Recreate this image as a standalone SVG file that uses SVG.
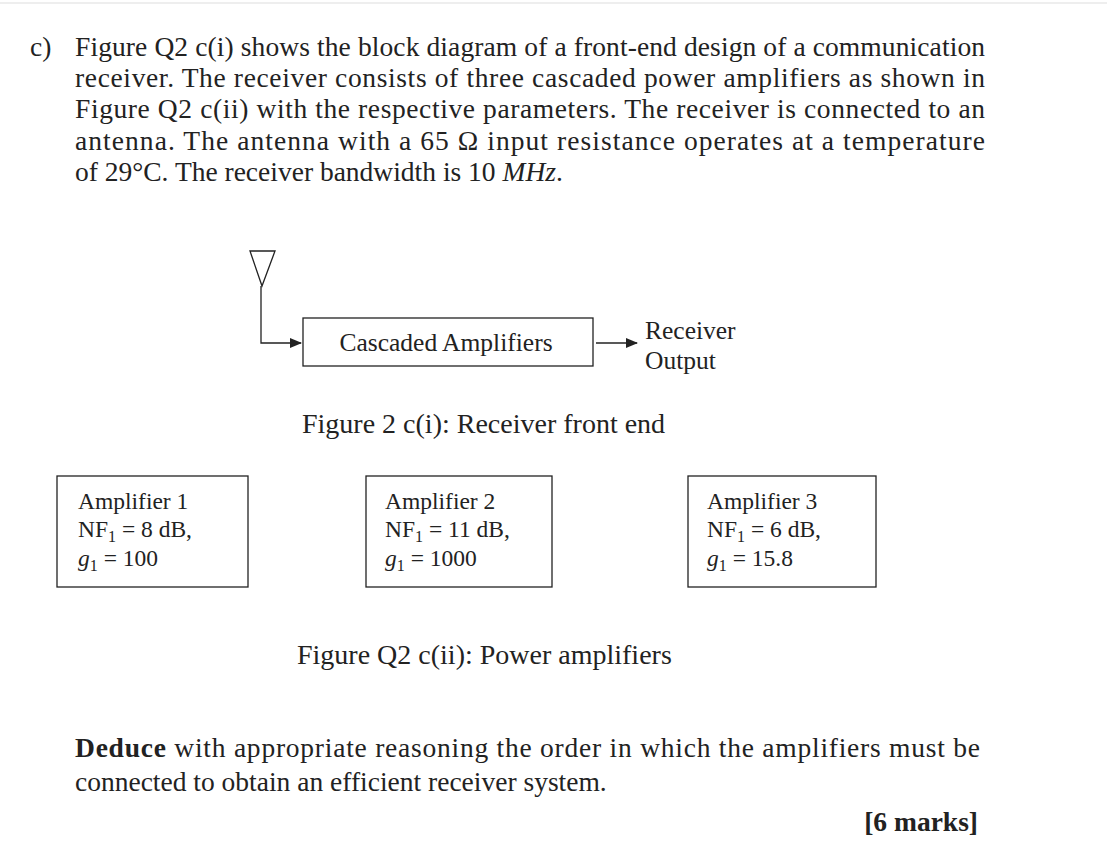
<svg xmlns="http://www.w3.org/2000/svg" width="1107" height="845" viewBox="0 0 1107 845">
<style>
text{font-family:"Liberation Serif","Times New Roman",serif;fill:#222}
.p{font-size:27.5px}
.c{font-size:28px}
.b{font-size:25.5px}
.a{font-size:23.5px}
.s{font-size:16px}
.box{fill:#fff;stroke:#222;stroke-width:1.3}
.ln{fill:none;stroke:#222;stroke-width:1.3}
</style>
<defs><marker id="ar" markerWidth="12" markerHeight="10" refX="11" refY="5" orient="auto" markerUnits="userSpaceOnUse"><path d="M0,0L12,5L0,10z" fill="#222"/></marker></defs>
<rect width="1107" height="845" fill="#fff"/>
<line x1="0" y1="3" x2="1107" y2="3" stroke="#eee" stroke-width="2"/>
<g id="question">
<text class="p" x="30" y="56">c)</text>
<text class="p" x="75" y="56" textLength="910" lengthAdjust="spacing">Figure Q2 c(i) shows the block diagram of a front-end design of a communication</text>
<text class="p" x="75" y="87" textLength="910" lengthAdjust="spacing">receiver. The receiver consists of three cascaded power amplifiers as shown in</text>
<text class="p" x="75" y="118" textLength="910" lengthAdjust="spacing">Figure Q2 c(ii) with the respective parameters. The receiver is connected to an</text>
<text class="p" x="75" y="150" textLength="910" lengthAdjust="spacing">antenna. The antenna with a 65 Ω input resistance operates at a temperature</text>
<text class="p" x="75" y="181">of 29°C. The receiver bandwidth is 10 <tspan font-style="italic">MHz</tspan>.</text>
</g>
<g id="antenna"><path class="ln" d="M250,251H275L262,286Z"/></g>
<g id="cascaded"><rect class="box" x="303" y="318" width="290" height="48"/><text class="b" x="446" y="351" text-anchor="middle">Cascaded Amplifiers</text></g>
<g id="output"><text class="b" x="645" y="339">Receiver</text><text class="b" x="645" y="369">Output</text></g>
<g id="connectors">
<path class="ln" d="M261,286V343H301" marker-end="url(#ar)"/>
<path class="ln" d="M596,343H637" marker-end="url(#ar)"/>
</g>
<text class="c" x="302" y="433">Figure 2 c(i): Receiver front end</text>
<g id="amp1"><rect class="box" x="57" y="476" width="191" height="111"/>
<text class="a" x="78" y="509">Amplifier 1</text><text class="a" x="78" y="537">NF<tspan class="s" dy="5">1</tspan><tspan dy="-5"> = 8 dB,</tspan></text><text class="a" x="78" y="566"><tspan font-style="italic">g</tspan><tspan class="s" dy="5">1</tspan><tspan dy="-5"> = 100</tspan></text></g>
<g id="amp2"><rect class="box" x="366" y="476" width="186" height="111"/>
<text class="a" x="385" y="509">Amplifier 2</text><text class="a" x="385" y="537">NF<tspan class="s" dy="5">1</tspan><tspan dy="-5"> = 11 dB,</tspan></text><text class="a" x="385" y="566"><tspan font-style="italic">g</tspan><tspan class="s" dy="5">1</tspan><tspan dy="-5"> = 1000</tspan></text></g>
<g id="amp3"><rect class="box" x="688" y="476" width="188" height="111"/>
<text class="a" x="707" y="509">Amplifier 3</text><text class="a" x="707" y="537">NF<tspan class="s" dy="5">1</tspan><tspan dy="-5"> = 6 dB,</tspan></text><text class="a" x="707" y="566"><tspan font-style="italic">g</tspan><tspan class="s" dy="5">1</tspan><tspan dy="-5"> = 15.8</tspan></text></g>
<text class="c" x="297" y="664">Figure Q2 c(ii): Power amplifiers</text>
<g id="task">
<text class="p" x="75" y="757" textLength="905" lengthAdjust="spacing"><tspan font-weight="bold">Deduce</tspan> with appropriate reasoning the order in which the amplifiers must be</text>
<text class="p" x="75" y="791">connected to obtain an efficient receiver system.</text>
<text class="p" x="978" y="831" text-anchor="end" font-weight="bold">[6 marks]</text>
</g>
</svg>
